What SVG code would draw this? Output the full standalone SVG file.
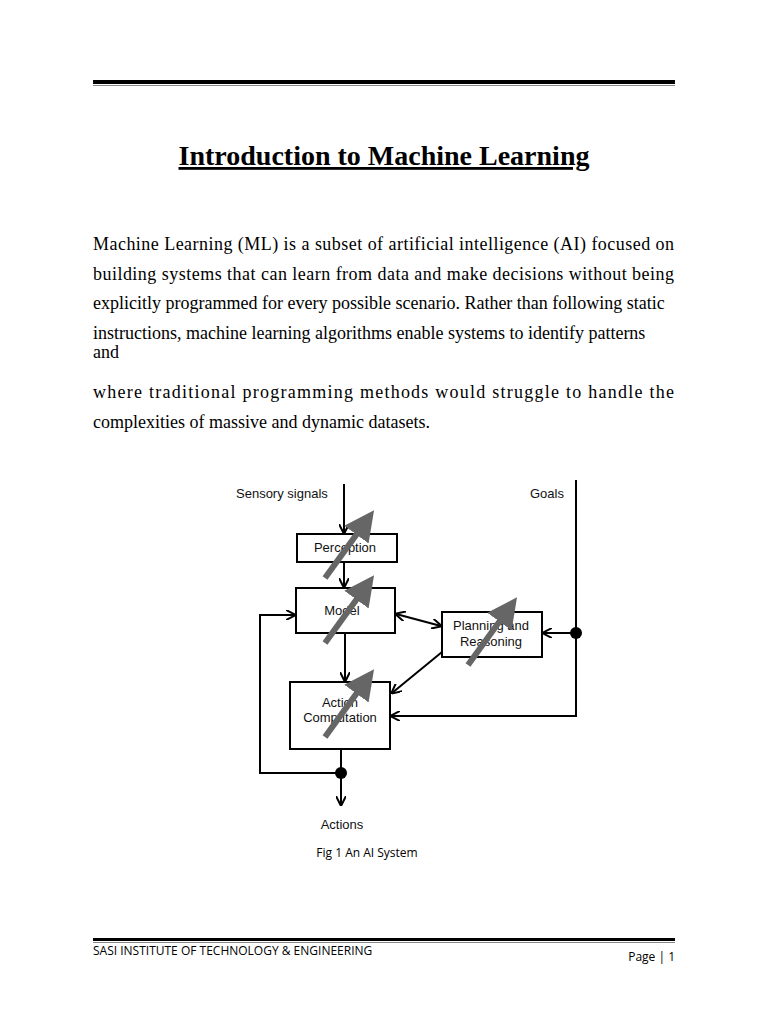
<svg xmlns="http://www.w3.org/2000/svg" width="768" height="1024" viewBox="0 0 768 1024">
<defs>
<marker id="ah" markerWidth="10" markerHeight="10" refX="9" refY="5" orient="auto-start-reverse" markerUnits="userSpaceOnUse"><path d="M0,0 L10,5 L0,10" fill="none" stroke="#000" stroke-width="2"/></marker>
<marker id="gh" markerWidth="6" markerHeight="6" refX="3" refY="3" orient="auto" markerUnits="strokeWidth"><path d="M0,0.5 L5,3 L0,5.5 Z" fill="#666"/></marker>
</defs>
<style>
.b{font-family:"Liberation Serif",serif;font-size:18px;fill:#000}
.d{font-family:"Liberation Sans",Arial,sans-serif;font-size:13px;fill:#111}
.box{fill:#fff;stroke:#000;stroke-width:2}
.c{fill:none;stroke:#000;stroke-width:2}
.g{stroke:#666;stroke-width:6;marker-end:url(#gh)}
</style>
<rect width="768" height="1024" fill="#fff"/>
<rect x="93" y="80" width="582" height="4" fill="#000"/>
<rect x="93" y="85" width="582" height="1" fill="#888"/>
<text x="384" y="165" text-anchor="middle" style="font-family:'Liberation Serif',serif;font-size:28px;font-weight:bold" text-decoration="underline">Introduction to Machine Learning</text>
<text class="b" x="93" y="250" textLength="581" lengthAdjust="spacing">Machine Learning (ML) is a subset of artificial intelligence (AI) focused on</text>
<text class="b" x="93" y="280" textLength="581" lengthAdjust="spacing">building systems that can learn from data and make decisions without being</text>
<text class="b" x="93" y="309">explicitly programmed for every possible scenario. Rather than following static</text>
<text class="b" x="93" y="339">instructions, machine learning algorithms enable systems to identify patterns</text>
<text class="b" x="93" y="358">and</text>
<text class="b" x="93" y="398" textLength="581" lengthAdjust="spacing">where traditional programming methods would struggle to handle the</text>
<text class="b" x="93" y="428">complexities of massive and dynamic datasets.</text>
<g id="connectors">
<line class="c" x1="344" y1="484" x2="344" y2="533" marker-end="url(#ah)"/>
<line class="c" x1="344" y1="562" x2="344" y2="587" marker-end="url(#ah)"/>
<line class="c" x1="345" y1="633" x2="345" y2="681" marker-end="url(#ah)"/>
<line class="c" x1="396" y1="614" x2="441" y2="626" marker-start="url(#ah)" marker-end="url(#ah)"/>
<line class="c" x1="442" y1="652" x2="392" y2="693" marker-end="url(#ah)"/>
<polyline class="c" points="576,480 576,716 391,716" marker-end="url(#ah)"/>
<line class="c" x1="576" y1="633" x2="543" y2="633" marker-end="url(#ah)"/>
<line class="c" x1="341" y1="749" x2="341" y2="805" marker-end="url(#ah)"/>
<polyline class="c" points="341,773 260,773 260,615 295,615" marker-end="url(#ah)"/>
<circle cx="576" cy="633" r="6" fill="#000"/>
<circle cx="341" cy="773" r="6" fill="#000"/>
</g>
<g id="perception"><rect class="box" x="297" y="534" width="100" height="28"/><text class="d" x="345" y="552" text-anchor="middle">Perception</text></g>
<g id="model"><rect class="box" x="296" y="588" width="99" height="45"/><text class="d" x="342" y="615" text-anchor="middle">Model</text></g>
<g id="planning"><rect class="box" x="442" y="612" width="100" height="45"/><text class="d" x="491" y="630" text-anchor="middle">Planning and</text><text class="d" x="491" y="646" text-anchor="middle">Reasoning</text></g>
<g id="action"><rect class="box" x="290" y="682" width="100" height="67"/><text class="d" x="340" y="707" text-anchor="middle">Action</text><text class="d" x="340" y="722" text-anchor="middle">Computation</text></g>
<g id="labels">
<text class="d" x="236" y="498">Sensory signals</text>
<text class="d" x="530" y="498">Goals</text>
<text class="d" x="342" y="829" text-anchor="middle">Actions</text>
</g>
<g id="overlay">
<line class="g" x1="325" y1="578" x2="367" y2="520"/>
<line class="g" x1="325" y1="643" x2="367" y2="585"/>
<line class="g" x1="468" y1="665" x2="510" y2="607"/>
<line class="g" x1="325" y1="737" x2="367" y2="679"/>
</g>
<text x="367" y="857" text-anchor="middle" style="font-family:'Open Sans','Liberation Sans',sans-serif;font-size:12px">Fig 1 An AI System</text>
<rect x="93" y="938" width="582" height="3" fill="#000"/>
<rect x="93" y="942" width="582" height="1" fill="#888"/>
<text x="93" y="955" style="font-family:'Open Sans','Liberation Sans',sans-serif;font-size:12px">SASI INSTITUTE OF TECHNOLOGY &amp; ENGINEERING</text>
<text x="675" y="961" text-anchor="end" style="font-family:'Open Sans','Liberation Sans',sans-serif;font-size:12px">Page | 1</text>
</svg>
